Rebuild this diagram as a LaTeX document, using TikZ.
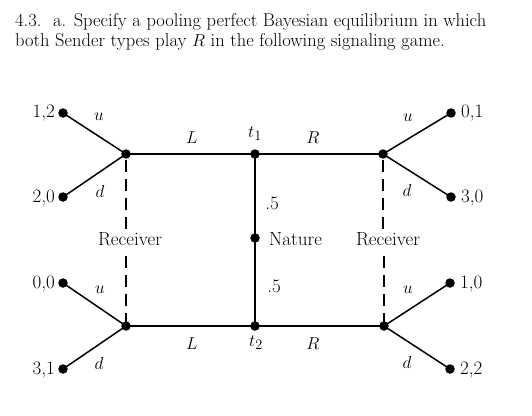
\documentclass[tikz,border=0pt]{standalone}
\usepackage{tikz}
\begin{document}
\begin{tikzpicture}[x=1pt,y=-1pt,
  dot/.style={circle,fill=black,inner sep=0pt,minimum size=9.5pt},
  edge/.style={line width=1.5pt},
  info/.style={line width=1.3pt,dash pattern=on 12pt off 7pt},
  lab/.style={inner sep=0pt,font=\fontsize{19}{22}\selectfont},
  head/.style={inner sep=0pt,anchor=base west,font=\fontsize{18.5}{22}\selectfont}]
\useasboundingbox (0,0) rectangle (532,415);
% header
\node[head] (h1) at (15,27) {4.3.};
\node[head] (h2) at (53,27) {a. Specify a pooling perfect Bayesian equilibrium in which};
\node[head] (h3) at (15,46.5) {both Sender types play $R$ in the following signaling game.};
% decision nodes
\node[dot] (A) at (126,154) {};
\node[dot] (t1) at (255,154) {};
\node[dot] (B) at (383,154) {};
\node[dot] (N) at (255,238) {};
\node[dot] (C) at (126,326) {};
\node[dot] (t2) at (255,326) {};
\node[dot] (D) at (384,326) {};
% terminal nodes
\node[dot] (a1) at (63,113) {};
\node[dot] (a2) at (63,197) {};
\node[dot] (b1) at (451,113) {};
\node[dot] (b2) at (451,197) {};
\node[dot] (c1) at (63,283) {};
\node[dot] (c2) at (63,369) {};
\node[dot] (d1) at (450,283) {};
\node[dot] (d2) at (450,369) {};
% edges
\draw[edge] (A.center) -- (t1.center) -- (B.center);
\draw[edge] (C.center) -- (t2.center) -- (D.center);
\draw[edge] (t1.center) -- (N.center) -- (t2.center);
\draw[edge] (A.center) -- (a1.center);
\draw[edge] (A.center) -- (a2.center);
\draw[edge] (B.center) -- (b1.center);
\draw[edge] (B.center) -- (b2.center);
\draw[edge] (C.center) -- (c1.center);
\draw[edge] (C.center) -- (c2.center);
\draw[edge] (D.center) -- (d1.center);
\draw[edge] (D.center) -- (d2.center);
% information sets
\coordinate (Aend) at (126,229);
\coordinate (Cend) at (126,256);
\coordinate (Bend) at (383,229);
\coordinate (Dend) at (384,256);
\draw[info] (A.center) ++(0,6) -- (Aend);
\draw[info] (Cend) -- ([yshift=-6pt]C.center);
\draw[info] (B.center) ++(0,6) -- (Bend);
\draw[info] (Dend) -- ([yshift=-6pt]D.center);
% labels
\node[lab] (rl) at (130,239) {Receiver};
\node[lab] (rr) at (388,239) {Receiver};
\node[lab,anchor=west] (nl) at (269,239) {Nature};
\node[lab] (p1) at (272,203) {.5};
\node[lab] (p2) at (274,286) {.5};
\node[lab] (lt1) at (255,134) {$t_1$};
\node[lab] (lt2) at (256,343) {$t_2$};
\node[lab] (L1) at (192,138) {$L$};
\node[lab] (R1) at (313,138) {$R$};
\node[lab] (L2) at (192,344) {$L$};
\node[lab] (R2) at (313,344) {$R$};
\node[lab] (u1) at (99,117) {$u$};
\node[lab] (d1l) at (100,191) {$d$};
\node[lab] (u2) at (408,118) {$u$};
\node[lab] (d2l) at (407,190) {$d$};
\node[lab] (u3) at (100,290) {$u$};
\node[lab] (d3l) at (99,363) {$d$};
\node[lab] (u4) at (408,290) {$u$};
\node[lab] (d4l) at (407,362) {$d$};
% payoffs
\node[lab,anchor=east] (pa1) at (55,113) {1,2};
\node[lab,anchor=east] (pa2) at (55,198) {2,0};
\node[lab,anchor=west] (pb1) at (461,113) {0,1};
\node[lab,anchor=west] (pb2) at (461,198) {3,0};
\node[lab,anchor=east] (pc1) at (55,284) {0,0};
\node[lab,anchor=east] (pc2) at (55,370) {3,1};
\node[lab,anchor=west] (pd1) at (460,284) {1,0};
\node[lab,anchor=west] (pd2) at (460,370) {2,2};
\end{tikzpicture}
\end{document}
